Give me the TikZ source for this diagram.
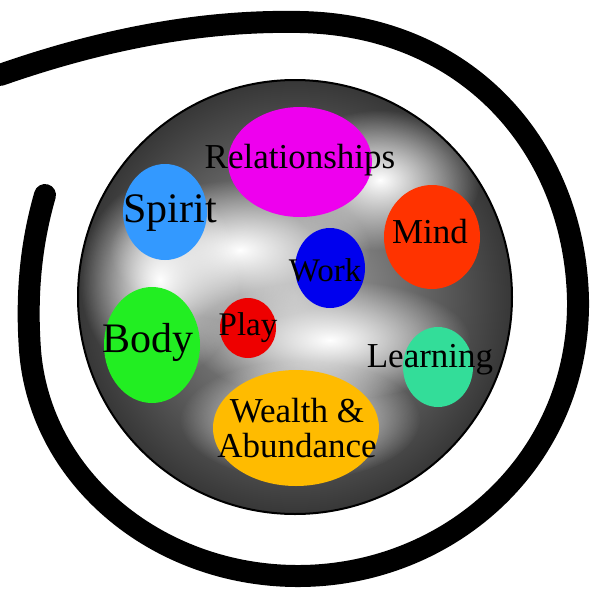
\documentclass[tikz,border=0pt]{standalone}
\usepackage{fontspec}
\setmainfont{Liberation Serif}
\usetikzlibrary{fadings}
\tikzfading[name=softblob, inner color=transparent!0, outer color=transparent!100]
\begin{document}
\begin{tikzpicture}[x=1pt,y=-1pt,
  blob/.style={draw=none},
  lbl/.style={font=\fontsize{#1}{#1}\selectfont, inner sep=0pt, align=center}]
\useasboundingbox (0,0) rectangle (600,600);
\fill[white] (0,0) rectangle (600,600);
% outer spiral ring
\draw[line width=22pt, line cap=round] (0,75) .. controls (100,40) and (200,20) .. (300,22)
  .. controls (470,25) and (575,150) .. (578,300)
  .. controls (580,460) and (450,575) .. (300,576)
  .. controls (160,577) and (40,480) .. (30,350)
  .. controls (25,280) and (35,230) .. (45,195);
% disc
\begin{scope}
\clip (295,297) circle (217);
\shade[inner color=gray!70, outer color=black!80] (295,297) circle (225);
\fill[white, path fading=softblob] (240,250) ellipse (130 and 70);
\fill[white, path fading=softblob] (330,340) ellipse (140 and 60);
\fill[white, path fading=softblob] (380,180) ellipse (100 and 70);
\fill[white, path fading=softblob] (160,280) ellipse (80 and 100);
\fill[white, path fading=softblob] (300,420) ellipse (120 and 60);
\end{scope}
\draw[line width=2pt] (295,297) circle (217);
% blobs
\fill[blob, fill={rgb,255:red,238;green,0;blue,238}] (300,162) ellipse (72 and 55);
\fill[blob, fill={rgb,255:red,51;green,153;blue,255}] (165,212) ellipse (42 and 48);
\fill[blob, fill={rgb,255:red,255;green,51;blue,0}] (432,237) ellipse (48 and 52);
\fill[blob, fill={rgb,255:red,0;green,0;blue,238}] (330,268) ellipse (35 and 40);
\fill[blob, fill={rgb,255:red,34;green,238;blue,34}] (152,345) ellipse (48 and 58);
\fill[blob, fill={rgb,255:red,238;green,0;blue,0}] (248,328) ellipse (28 and 30);
\fill[blob, fill={rgb,255:red,51;green,221;blue,153}] (438,367) ellipse (35 and 40);
\fill[blob, fill={rgb,255:red,255;green,187;blue,0}] (296,428) ellipse (83 and 58);
% labels
\node[lbl=35] (rel) at (300,160) {Relationships};
\node[lbl=42] (spi) at (170,213) {Spirit};
\node[lbl=35] (min) at (430,232) {Mind};
\node[lbl=33] (wor) at (325,270) {Work};
\node[lbl=42] (bod) at (148,342) {Body};
\node[lbl=33] (pla) at (248,328) {Play};
\node[lbl=35] (lea) at (430,360) {Learning};
\node[lbl=35] (wea) at (297,428) {Wealth \&\\Abundance};
\end{tikzpicture}
\end{document}
